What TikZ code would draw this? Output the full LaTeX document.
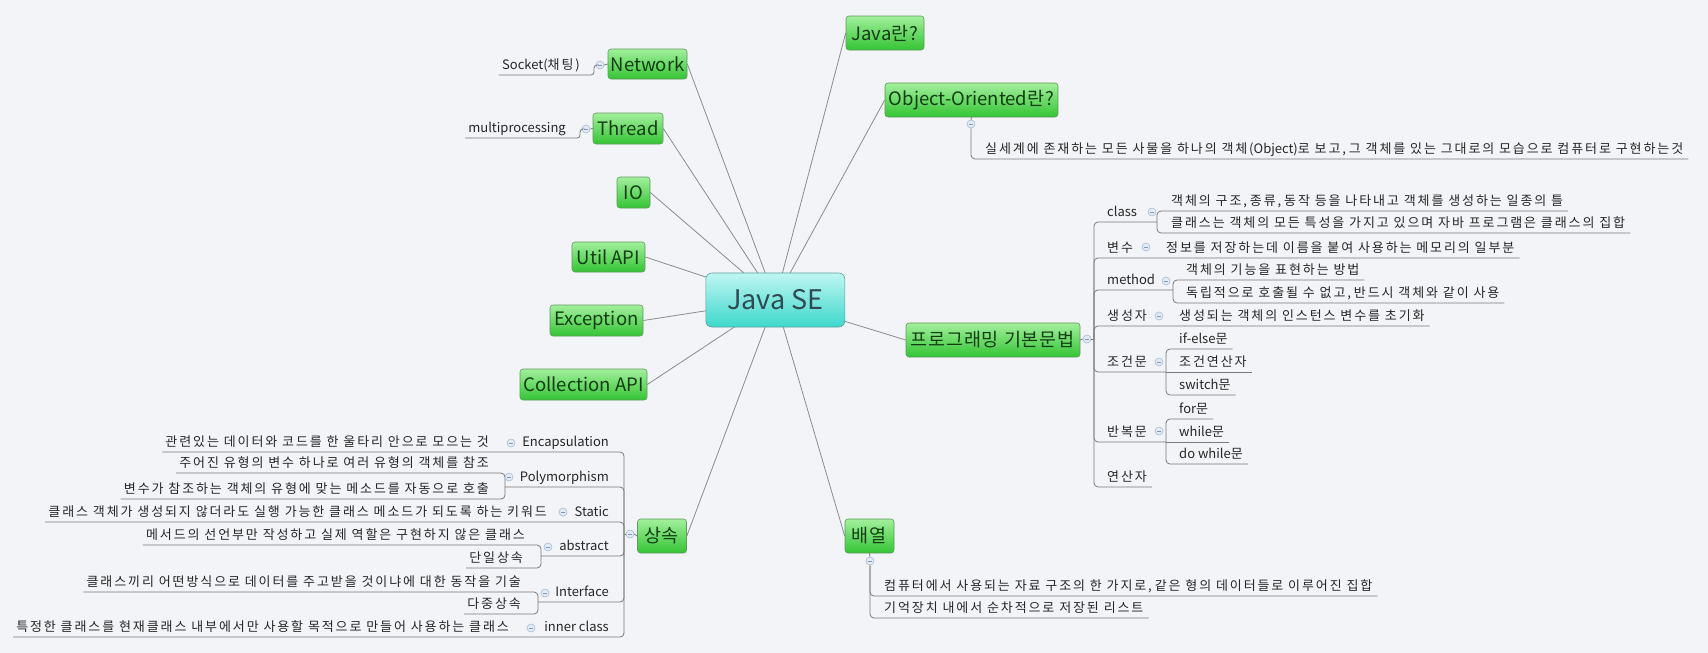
\documentclass[tikz,border=0pt]{standalone}
\usepackage{fontspec}
\setmainfont{Noto Sans CJK KR}
\usetikzlibrary{backgrounds}
% extra tracking after Hangul syllables (the reference font sets Hangul wider)
\def\hgk{0pt}
\XeTeXinterchartokenstate=1
\count255="AC00
\loop
  \XeTeXcharclass\count255=11
  \advance\count255 by 1
\ifnum\count255<"D7A4 \repeat
\XeTeXinterchartoks 11 11 = {\kern\hgk\relax}
\XeTeXinterchartoks 11 0 = {\kern\hgk\relax}
\XeTeXinterchartoks 11 4095 = {\kern\hgk\relax}
\definecolor{bgc}{HTML}{F3F4F8}
\definecolor{lnc}{HTML}{8C8C8C}
\definecolor{ulc}{HTML}{7A7A7A}
\definecolor{txc}{HTML}{262626}
\definecolor{gtop}{HTML}{A2F09C}
\definecolor{gbot}{HTML}{34C434}
\definecolor{gbrd}{HTML}{5E9A5E}
\definecolor{gtxt}{HTML}{123D12}
\definecolor{ctop}{HTML}{BFF6F2}
\definecolor{cbot}{HTML}{3ED8CC}
\definecolor{cbrd}{HTML}{5E9E9E}
\definecolor{ctxt}{HTML}{2E4A52}
\definecolor{btnf}{HTML}{E2EAF4}
\definecolor{btnd}{HTML}{A9BCD6}
\definecolor{btnm}{HTML}{8298BA}
\tikzset{
  conn/.style={draw=lnc, line width=0.8pt},
  ul/.style={draw=ulc, line width=0.8pt, rounded corners=4pt},
  gbox/.style={rectangle, rounded corners=3pt, draw=gbrd, line width=0.6pt, top color=gtop, bottom color=gbot, text=gtxt, inner sep=0pt, font=\fontsize{18.5}{20}\selectfont\def\hgk{0.9pt}},
  cbox/.style={rectangle, rounded corners=6pt, draw=cbrd, line width=0.6pt, top color=ctop, bottom color=cbot, text=ctxt, inner sep=0pt, font=\fontsize{27}{30}\selectfont},
  tx/.style={inner xsep=3pt, inner ysep=2.5pt, text height=10pt, text depth=2.5pt, font=\fontsize{13}{16}\selectfont\def\hgk{1.9pt}, text=txc},
  txl/.style={tx, anchor=south west},
  txr/.style={tx, anchor=south east},
  btn/.style={circle, minimum size=8pt, inner sep=0pt, draw=btnd, fill=btnf, line width=0.6pt,
    path picture={\draw[btnm, line width=0.8pt] ([xshift=-2pt]path picture bounding box.center) -- ([xshift=2pt]path picture bounding box.center);}}
}
\begin{document}
\begin{tikzpicture}[x=1pt,y=-1pt]
\begin{scope}[on background layer]
\fill[bgc] (0,0) rectangle (1708,653);
\end{scope}
\useasboundingbox (0,0) rectangle (1708,653);

% central and main topics
\node[cbox, minimum width=139pt, minimum height=54pt] (se) at (775.3,300) {Java SE};
\node[gbox, minimum width=79pt, minimum height=30pt] (net) at (647.5,64) {Network};
\node[gbox, minimum width=70pt, minimum height=31pt] (thr) at (628,128.5) {Thread};
\node[gbox, minimum width=33pt, minimum height=31pt] (io) at (633.5,192.5) {IO};
\node[gbox, minimum width=73pt, minimum height=30pt] (util) at (608.5,257) {Util API};
\node[gbox, minimum width=93pt, minimum height=31pt] (exc) at (596.5,320.5) {Exception};
\node[gbox, minimum width=127pt, minimum height=31pt] (coll) at (583.5,384.5) {Collection API};
\node[gbox, minimum width=78pt, minimum height=34pt] (jv) at (885,33) {Java란?};
\node[gbox, minimum width=173pt, minimum height=34pt] (oo) at (971.5,100) {Object-Oriented란?};
\node[gbox, minimum width=174pt, minimum height=34pt] (pg) at (993,340) {프로그래밍 기본문법};
\node[gbox, minimum width=49pt, minimum height=34pt] (arr) at (869.5,536) {배열};
\node[gbox, minimum width=49pt, minimum height=34pt] (inh) at (662,536) {상속};

\begin{scope}[on background layer]
\foreach \n in {net,thr,io,util,exc,coll,inh} \draw[conn] (se.center) -- (\n.east);
\foreach \n in {jv,oo,pg,arr} \draw[conn] (se.center) -- (\n.west);
\end{scope}

% collapse buttons
\node[btn] (bnet) at (600,65) {};
\node[btn] (bthr) at (586,129) {};
\node[btn] (boo) at (971,124) {};
\node[btn] (bpg) at (1087,339) {};
\node[btn] (barr) at (870,561) {};
\node[btn] (binh) at (630,534) {};

% Network / Thread children
\node[txr] (sock) at (583,75) {Socket(채팅)};
\node[txr] (mp) at (569,138) {multiprocessing};
\draw[ul] (net.west) -- (bnet.east);
\draw[ul, rounded corners=3pt] (bnet.west) -- (594,65) |- (sock.south west);
\draw[ul] (thr.west) -- (bthr.east);
\draw[ul, rounded corners=3pt] (bthr.west) -- (580,129) |- (mp.south west);

% Object-Oriented child
\node[txl] (oo1) at (982,159) {실세계에 존재하는 모든 사물을 하나의 객체(Object)로 보고, 그 객체를 있는 그대로의 모습으로 컴퓨터로 구현하는것};
\draw[ul] (oo.south) -- (boo.north);
\draw[ul] (boo.south) |- (oo1.south east);

% programming basics
\coordinate (S) at (1094,339);
\node[txl] (lcls) at (1104,222) {class};
\node[txl] (c1) at (1168,211) {객체의 구조, 종류, 동작 등을 나타내고 객체를 생성하는 일종의 틀};
\node[txl] (c2) at (1168,233) {클래스는 객체의 모든 특성을 가지고 있으며 자바 프로그램은 클래스의 집합};
\node[txl] (lvar) at (1104,258) {변수};
\node[txl] (v1) at (1163,258) {정보를 저장하는데 이름을 붙여 사용하는 메모리의 일부분};
\node[txl] (lmet) at (1104,290) {method};
\node[txl] (m1) at (1183,280) {객체의 기능을 표현하는 방법};
\node[txl] (m2) at (1183,303) {독립적으로 호출될 수 없고, 반드시 객체와 같이 사용};
\node[txl] (lcon) at (1104,326) {생성자};
\node[txl] (g1) at (1176,326) {생성되는 객체의 인스턴스 변수를 초기화};
\node[txl] (lif) at (1104,372) {조건문};
\node[txl] (if1) at (1176,349) {if-else문};
\node[txl] (if2) at (1176,372) {조건연산자};
\node[txl] (if3) at (1176,395) {switch문};
\node[txl] (llp) at (1104,442) {반복문};
\node[txl] (lp1) at (1176,419) {for문};
\node[txl] (lp2) at (1176,442) {while문};
\node[txl] (lp3) at (1176,464) {do while문};
\node[txl] (lop) at (1104,487) {연산자};

\coordinate (jcls) at (1157,222);
\coordinate (jmet) at (1173,290);
\coordinate (jif) at (1166,372);
\coordinate (jlp) at (1166,442);
\draw[ul] (pg.east) -- (bpg.west);
\draw[ul] (bpg.east) -- (S);
\draw[ul] (S) |- (jcls);
\draw[ul] (jcls) |- (c1.south east);
\draw[ul] (jcls) |- (c2.south east);
\draw[ul] (S) |- (v1.south east);
\draw[ul] (S) |- (jmet);
\draw[ul] (jmet) |- (m1.south east);
\draw[ul] (jmet) |- (m2.south east);
\draw[ul] (S) |- (g1.south east);
\draw[ul] (S) |- (jif);
\draw[ul] (jif) |- (if1.south east);
\draw[ul] (jif) -- (if2.south east);
\draw[ul] (jif) |- (if3.south east);
\draw[ul] (S) |- (jlp);
\draw[ul] (jlp) |- (lp1.south east);
\draw[ul] (jlp) -- (lp2.south east);
\draw[ul] (jlp) |- (lp3.south east);
\draw[ul] (S) |- (lop.south east);
\node[btn] (bcls) at (1152,212) {};
\node[btn] (bvar) at (1146,247) {};
\node[btn] (bmet) at (1166,281) {};
\node[btn] (bcon) at (1159,316) {};
\node[btn] (bif) at (1159,362) {};
\node[btn] (blp) at (1159,431) {};

% array
\node[txl] (b1) at (881,596) {컴퓨터에서 사용되는 자료 구조의 한 가지로, 같은 형의 데이터들로 이루어진 집합};
\node[txl] (b2) at (881,618) {기억장치 내에서 순차적으로 저장된 리스트};
\draw[ul] (arr.south) -- (barr.north);
\draw[ul] (barr.south) |- (b1.south east);
\draw[ul] (barr.south) |- (b2.south east);

% inheritance
\coordinate (T) at (624,534);
\node[txr] (lenc) at (612,452) {Encapsulation};
\node[txr] (e1) at (494,452) {관련있는 데이터와 코드를 한 울타리 안으로 모으는 것};
\node[txr] (lpol) at (612,487) {Polymorphism};
\node[txr] (p1) at (494,473) {주어진 유형의 변수 하나로 여러 유형의 객체를 참조};
\node[txr] (p2) at (494,499) {변수가 참조하는 객체의 유형에 맞는 메소드를 자동으로 호출};
\node[txr] (lsta) at (612,522) {Static};
\node[txr] (s1) at (552,522) {클래스 객체가 생성되지 않더라도 실행 가능한 클래스 메소드가 되도록 하는 키워드};
\node[txr] (labs) at (612,556) {abstract};
\node[txr] (a1) at (530,545) {메서드의 선언부만 작성하고 실제 역할은 구현하지 않은 클래스};
\node[txr] (a2) at (528,568) {단일상속};
\node[txr] (lint) at (612,602) {Interface};
\node[txr] (i1) at (526,592) {클래스끼리 어떤방식으로 데이터를 주고받을 것이냐에 대한 동작을 기술};
\node[txr] (i2) at (526,614) {다중상속};
\node[txr] (linn) at (612,637) {inner class};
\node[txr] (n1) at (514,637) {특정한 클래스를 현재클래스 내부에서만 사용할 목적으로 만들어 사용하는 클래스};

\coordinate (jpol) at (505,487);
\coordinate (jabs) at (541,556);
\coordinate (jint) at (538,602);
\draw[ul] (inh.west) -- (binh.east);
\draw[ul] (binh.west) -- (T);
\draw[ul] (T) |- (e1.south west);
\draw[ul] (T) |- (jpol);
\draw[ul] (jpol) |- (p1.south west);
\draw[ul] (jpol) |- (p2.south west);
\draw[ul] (T) |- (s1.south west);
\draw[ul] (T) |- (jabs);
\draw[ul] (jabs) |- (a1.south west);
\draw[ul] (jabs) |- (a2.south west);
\draw[ul] (T) |- (jint);
\draw[ul] (jint) |- (i1.south west);
\draw[ul] (jint) |- (i2.south west);
\draw[ul] (T) |- (n1.south west);
\node[btn] (benc) at (511,443) {};
\node[btn] (bpol) at (509,477) {};
\node[btn] (bsta) at (563,512) {};
\node[btn] (babs) at (548,547) {};
\node[btn] (bint) at (545,593) {};
\node[btn] (binn) at (531,628) {};
\end{tikzpicture}
\end{document}
